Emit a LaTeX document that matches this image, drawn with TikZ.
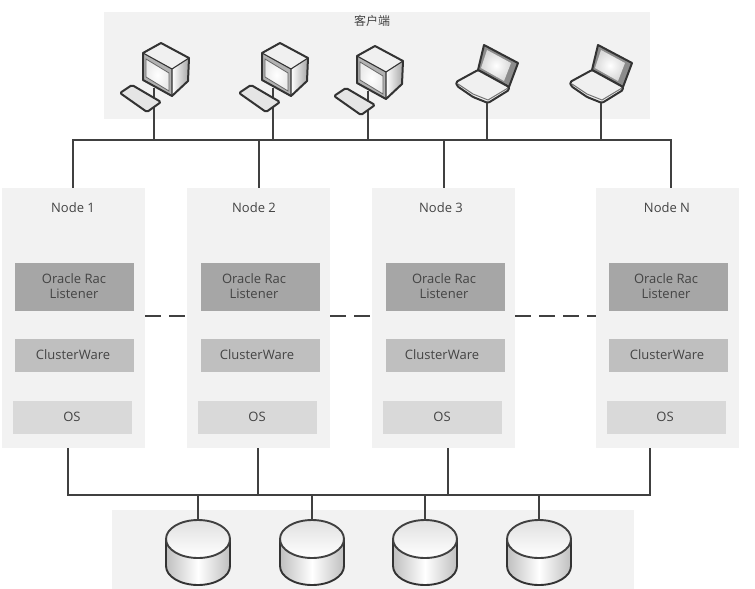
\documentclass[tikz,border=0pt]{standalone}
\usepackage{fontspec}
\setmainfont{Open Sans}
\newfontfamily\cjk{Noto Sans CJK SC}
\definecolor{panelgray}{HTML}{F2F2F2}
\definecolor{linegray}{HTML}{404040}
\definecolor{textgray}{HTML}{444444}
\tikzset{
  panel/.style={rectangle,fill=panelgray,draw=none,inner sep=0pt,outer sep=0pt},
  box/.style={rectangle,draw=none,inner sep=0pt,outer sep=0pt,minimum width=119pt},
  listenerbox/.style={box,fill=black!35,minimum height=48pt},
  clusterbox/.style={box,fill=black!25,minimum height=33pt},
  osbox/.style={box,fill=black!15,minimum height=33pt},
  txt/.style={text=textgray,font=\fontsize{13}{15.5}\selectfont,align=center,inner sep=0pt},
  wire/.style={linegray,line width=1.9pt},
  dashlink/.style={wire,dash pattern=on 16pt off 8pt},
  icon/.style={black!80,line width=1.5pt,line join=round},
  pics/desktop/.style={code={
    % stem top is the origin
    \coordinate (-port) at (0,0);
    \draw[wire,line width=1.5pt] (0,-24) -- (0,0);
    \path[left color=white,right color=black!35] (18,-43) -- (35,-54) -- (34,-31) -- (18,-16) -- cycle;
    \path[fill=black!6] (7,-69) -- (35,-54) -- (18,-43) -- (-11,-59) -- cycle;
    \path[fill=black!30] (-11,-59) -- (18,-43) -- (18,-16) -- (-11,-32) -- cycle;
    \path[draw=black!60,line width=.8pt,inner color=white,outer color=black!8]
      (-8,-53) -- (15,-39) -- (15,-21) -- (-8,-35) -- cycle;
    \draw[icon,line width=2pt] (7,-69) -- (35,-54) -- (34,-31) -- (18,-16) -- (-11,-32) -- (-11,-59) -- cycle;
    \draw[icon,line width=1.1pt] (18,-43) -- (18,-16) (18,-43) -- (35,-54) (-11,-59) -- (18,-43);
    \draw[icon,line width=2pt,fill=black!10,rounded corners=1.5pt]
      (-34,-19) -- (-22,-27) -- (7,-10) -- (-7,0) -- cycle;
  }},
  pics/laptop/.style={code={
    \coordinate (-port) at (0,0);
    \path[fill=black!45] (-3,-58) -- (31,-40) -- (22,-16) -- (-9,-33) -- cycle;
    \path[inner color=white,outer color=black!15] (0,-53) -- (24,-40) -- (17,-22) -- (-6,-35) -- cycle;
    \draw[icon,line width=2pt] (-3,-58) -- (31,-40) -- (22,-16) -- (-9,-33) -- cycle;
    \draw[icon,fill=black!6,line width=2pt,rounded corners=1.5pt]
      (-9,-33) -- (22,-16) -- (22,-13) -- (1,0) -- (-14,-6) -- (-30,-17) -- (-31,-21) -- cycle;
    \draw[black!55,line width=1pt] (-29,-19) -- (-14,-9) -- (1,-3) -- (21,-15);
  }},
  pics/disk/.style={code={
    \coordinate (-port) at (0,0);
    \path[left color=black!25,right color=black!25,middle color=white]
      (-32,19) -- (-32,46) arc[x radius=32,y radius=-19,start angle=180,end angle=360] -- (32,19) -- cycle;
    \draw[icon,line width=1.9pt] (-32,19) -- (-32,46) arc[x radius=32,y radius=-19,start angle=180,end angle=360] -- (32,19);
    \path[top color=black!12,bottom color=white,draw=linegray,line width=1.9pt]
      (0,19) ellipse[x radius=32,y radius=19];
  }}
}
\begin{document}
\begin{tikzpicture}[x=1pt,y=-1pt]
  \useasboundingbox (0,0) rectangle (755,589);

  % panels behind everything
  \node[panel,minimum width=546pt,minimum height=107pt] (clients) at (377,65.5) {};
  \node[panel,minimum width=522pt,minimum height=79pt] (storage) at (373,549.5) {};
  \node[txt,font=\cjk\fontsize{12}{14}\selectfont] (clientlabel) at (372,21) {客户端};

  % server columns
  \foreach \n/\lab/\cx/\bx/\ox/\tx/\lx/\kx/\sx in {
      1/Node 1/73.5/74.5/72.5/73/74/73/72,
      2/Node 2/258.5/260/257.5/254/254/257/257,
      3/Node 3/443.5/445.5/442.5/441/444/442/442,
      4/Node N/667/668.5/666.5/667/666/667/665} {
    \node[panel,minimum width=143pt,minimum height=260pt] (n\n) at (\cx,318) {};
    \node[txt] (title\n) at (\tx,207.5) {\lab};
    \node[listenerbox] (lis\n) at (\bx,287) {};
    \node[txt] (listxt\n) at (\lx,286) {Oracle Rac\\Listener};
    \node[clusterbox] (clu\n) at (\bx,355.5) {};
    \node[txt] (clutxt\n) at (\kx,354.5) {ClusterWare};
    \node[osbox] (os\n) at (\ox,417.5) {};
    \node[txt] (ostxt\n) at (\sx,416.5) {OS};
  }

  % top bus
  \coordinate (tl) at (73,140);
  \coordinate (tr) at (671,140);
  \draw[wire,line join=miter] (n1.north -| tl) -- (tl) -- (tr) -- (n4.north -| tr);
  \coordinate (t2) at (259,140);
  \coordinate (t3) at (444,140);
  \draw[wire] (t2) -- (t2 |- n2.north);
  \draw[wire] (t3) -- (t3 |- n3.north);

  % clients
  \pic (c1) at (154,112) {desktop};
  \pic (c2) at (273,112) {desktop};
  \pic (c3) at (368,115) {desktop};
  \pic (c4) at (487,103) {laptop};
  \pic (c5) at (601,103) {laptop};
  \foreach \c in {c1,c2,c3,c4,c5}
    \draw[wire] (\c-port) -- (\c-port |- tl);

  % dashed links between columns
  \draw[dashlink] (n1.east |- 0,316) -- (n2.west |- 0,316);
  \draw[dashlink] (n2.east |- 0,316) -- (n3.west |- 0,316);
  \draw[dashlink] (n3.east |- 0,316) -- (n4.west |- 0,316);

  % bottom bus
  \coordinate (bl) at (68,495);
  \coordinate (br) at (650,495);
  \coordinate (b2) at (258,495);
  \coordinate (b3) at (448,495);
  \draw[wire,line join=miter] (bl |- n1.south) -- (bl) -- (br) -- (br |- n4.south);
  \draw[wire] (b2 |- n2.south) -- (b2);
  \draw[wire] (b3 |- n3.south) -- (b3);

  % disks
  \pic (d1) at (198,520) {disk};
  \pic (d2) at (312,520) {disk};
  \pic (d3) at (425,520) {disk};
  \pic (d4) at (539,520) {disk};
  \foreach \d in {d1,d2,d3,d4}
    \draw[wire] (\d-port |- bl) -- (\d-port);
\end{tikzpicture}
\end{document}
